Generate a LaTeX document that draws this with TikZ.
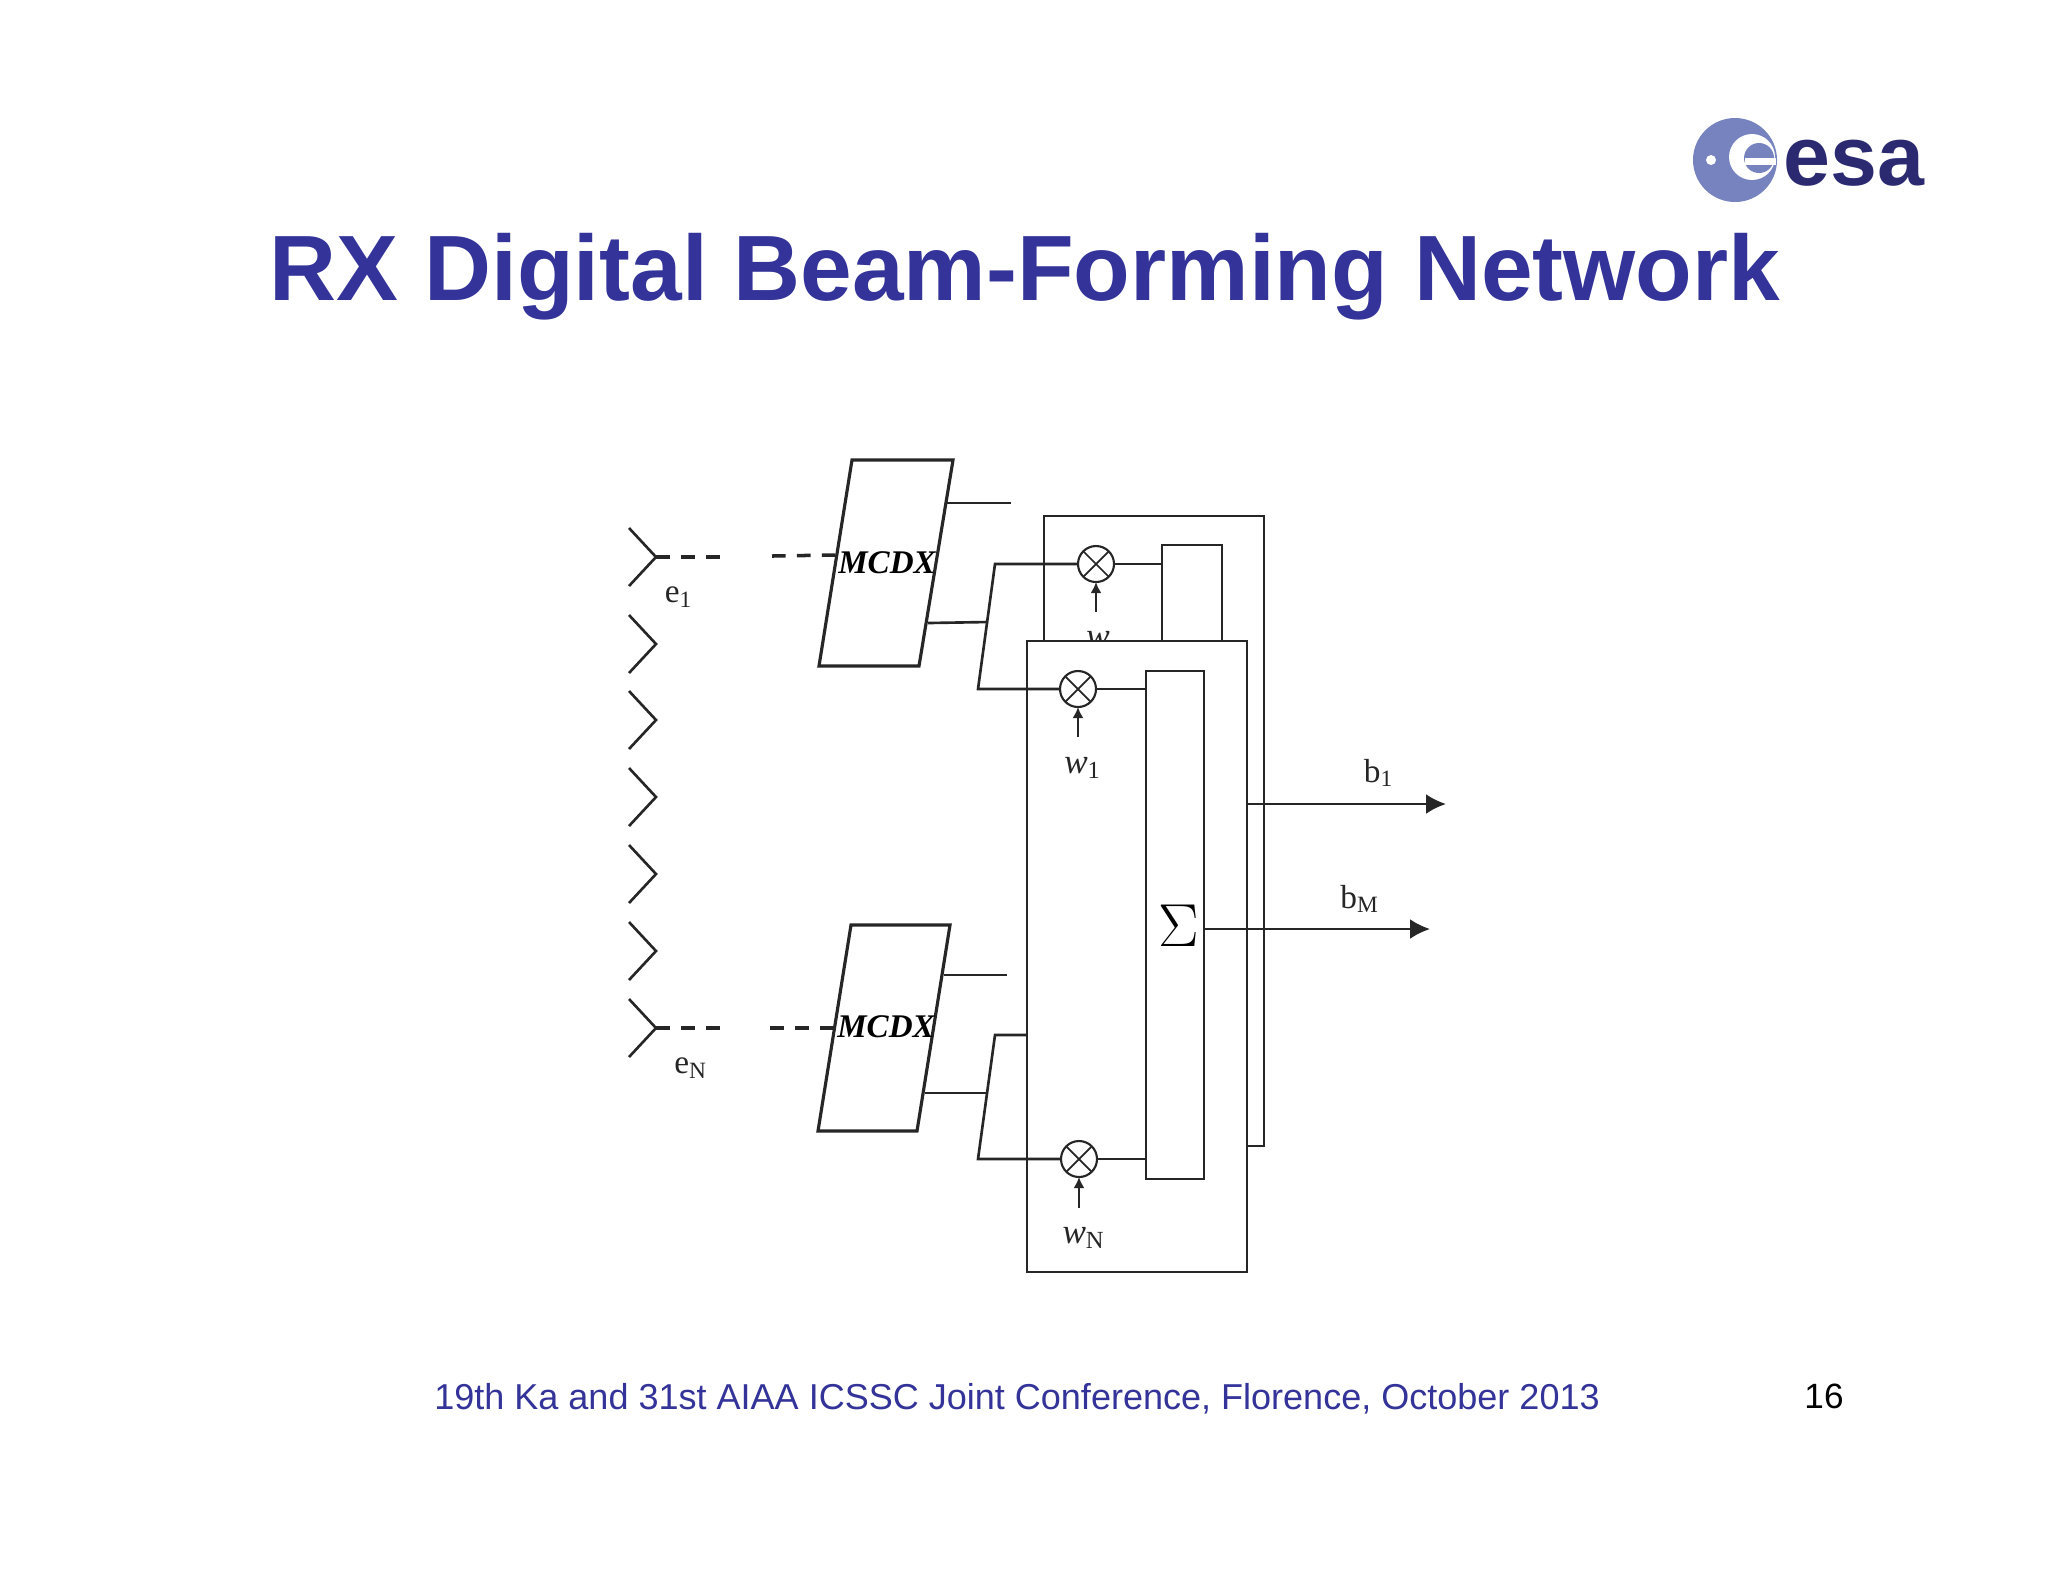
\documentclass[tikz,border=0pt]{standalone}
\usepackage{fontspec}
\setmainfont{Liberation Sans}
\newfontfamily\labelfont{Liberation Serif}
\usetikzlibrary{calc,arrows.meta}

\definecolor{slideblue}{HTML}{333399}
\definecolor{logoblue}{HTML}{7683BE}
\definecolor{logonavy}{HTML}{2B2A70}
\definecolor{wire}{HTML}{262626}

\tikzset{
    wireline/.style={draw=wire, line width=0.75pt},
    feedline/.style={wireline, dash pattern=on 3.9pt off 3.2pt, line width=1pt},
    outarrow/.style={wireline, -{Latex[length=2mm,width=2mm]}},
    weightarrow/.style={wireline, -{Latex[length=1.1mm,width=1.1mm]}},
    mixer/.style={circle, draw=wire, line width=0.6pt, fill=white, minimum size=3.6mm, inner sep=0pt, outer sep=0pt},
    sumbox/.style={rectangle, draw=wire, line width=0.75pt, fill=white, inner sep=0pt, outer sep=0pt},
    sublabel/.style={font=\labelfont\fontsize{9.5}{10}\selectfont, text=wire, inner sep=0pt},
    mcdxlabel/.style={font=\labelfont\itshape\bfseries\fontsize{9.4}{10}\selectfont, text=black, inner sep=0pt},
}

\newcommand{\mixercross}[1]{
    \draw[wire, line width=0.5pt] (#1.north west) -- (#1.south east);
    \draw[wire, line width=0.5pt] (#1.north east) -- (#1.south west);
}

\begin{document}
\begin{tikzpicture}[x=0.1mm, y=-0.1mm]
    \useasboundingbox (0,0) rectangle (2048,1582);

    % Define coordinates
    \coordinate (e1) at (656,557);
    \coordinate (eN) at (656,1028);
    \coordinate (gap1a) at (723,557);
    \coordinate (gap1b) at (772,556);
    \coordinate (gapNa) at (720,1028);
    \coordinate (gapNb) at (770,1028);

    \coordinate (mcdx1a) at (852,460);
    \coordinate (mcdx1b) at (953,460);
    \coordinate (mcdx1c) at (919,666);
    \coordinate (mcdx1d) at (819,666);
    \coordinate (mcdxNa) at (851,925);
    \coordinate (mcdxNb) at (950,925);
    \coordinate (mcdxNc) at (917,1131);
    \coordinate (mcdxNd) at (818,1131);

    % Title and footer
    \node[font=\bfseries\fontsize{26.4}{30}\selectfont, text=slideblue, inner sep=0pt] (title) at (1025,277) {RX Digital Beam-Forming Network};
    \node[font=\fontsize{10.25}{12}\selectfont, text=slideblue, inner sep=0pt] (footer) at (1017,1399) {19th Ka and 31st AIAA ICSSC Joint Conference, Florence, October 2013};
    \node[font=\fontsize{10}{12}\selectfont, text=black, inner sep=0pt] (page) at (1824,1396) {16};

    % Draw logo
    \fill[logoblue] (1735,160) circle (4.2mm);
    \fill[white] (1711,160) circle (0.5mm);
    \fill[white] (1752,157) circle (2.3mm);
    \fill[logoblue] (1759,158) circle (1.5mm);
    \fill[white] (1745,158) rectangle (1776,165);
    \node[font=\bfseries\fontsize{24}{26}\selectfont, text=logonavy, inner sep=0pt] (esa) at (1854,163) {esa};

    % Draw antenna elements
    \foreach \y in {557,644,720,797,874,951,1028} {
        \draw[wireline] (629,\y-29) -- (656,\y) -- (629,\y+29);
    }

    % Draw feed lines
    \draw[feedline] (e1) -- (gap1a);
    \draw[feedline] (gap1b) -- (835,555);
    \draw[feedline] (eN) -- (gapNa);
    \draw[feedline] (gapNb) -- (834,1028);
    \node[sublabel] (e1label) at (679,597) {e\textsubscript{1}};
    \node[sublabel] (eNlabel) at (691,1068) {e\textsubscript{N}};

    % Draw demultiplexers
    \draw[wireline, line width=0.9pt] (mcdx1a) -- (mcdx1b) -- (mcdx1c) -- (mcdx1d) -- cycle;
    \draw[wireline, line width=0.9pt] (mcdxNa) -- (mcdxNb) -- (mcdxNc) -- (mcdxNd) -- cycle;
    \node[mcdxlabel] (mcdx1) at (887,563) {MCDX};
    \node[mcdxlabel] (mcdxN) at (886,1027) {MCDX};

    % Back beam former
    \node[sumbox, minimum width=22mm, minimum height=63mm, anchor=north west] (beamM) at (1044,516) {};
    \node[sumbox, minimum width=6mm, minimum height=12mm, anchor=north west] (sumM) at (1162,545) {};
    \node[mixer] (mixM) at (1096,564) {};
    \mixercross{mixM}
    \coordinate (wM) at (1096,612);
    \draw[weightarrow] (wM) -- (mixM);
    \draw[wireline] (mixM) -- (mixM -| sumM.west);
    \node[sublabel, font=\labelfont\itshape\fontsize{10}{10}\selectfont] (wMlabel) at (1098,640) {w};

    % Front beam former
    \node[sumbox, minimum width=22mm, minimum height=63.1mm, anchor=north west] (beam1) at (1027,641) {};
    \node[sumbox, minimum width=5.8mm, minimum height=50.8mm, anchor=north west] (sum1) at (1146,671) {};
    \node (sigma) at (1179,926) {\fontsize{17}{17}\selectfont$\Sigma$};
    \node[mixer] (mix1) at (1078,689) {};
    \node[mixer] (mixN) at (1079,1159) {};
    \mixercross{mix1}
    \mixercross{mixN}
    \coordinate (w1) at (1078,737);
    \coordinate (wN) at (1079,1208);
    \draw[weightarrow] (w1) -- (mix1);
    \draw[weightarrow] (wN) -- (mixN);
    \draw[wireline] (mix1) -- (mix1 -| sum1.west);
    \draw[wireline] (mixN) -- (mixN -| sum1.west);
    \node[sublabel, font=\labelfont\itshape\fontsize{10}{10}\selectfont] (w1label) at (1083,768) {w\textsubscript{\upshape 1}};
    \node[sublabel, font=\labelfont\itshape\fontsize{10}{10}\selectfont] (wNlabel) at (1084,1238) {w\textsubscript{\upshape N}};

    % Draw stubs and forks
    \coordinate (fork1) at (988,622);
    \coordinate (forkN) at (986,1093);
    \draw[wireline] (947,503) -- (1011,503);
    \draw[wireline] (944,975) -- (1007,975);
    \draw[wireline] (928,623) -- (fork1);
    \draw[wireline] (925,1093) -- (forkN);
    \draw[wireline] (mixM) -- (995,564) -- (978,689) -- (mix1);
    \draw[wireline] (beam1.west |- 0,1035) -- (995,1035) -- (978,1159) -- (mixN);

    % Draw outputs
    \coordinate (b1) at (1446,804);
    \coordinate (bM) at (1430,929);
    \draw[outarrow] (beam1.east |- b1) -- (b1);
    \draw[outarrow] (sum1.east |- bM) -- (bM);
    \node[sublabel] (b1label) at (1379,773) {b\textsubscript{1}};
    \node[sublabel] (bMlabel) at (1360,899) {b\textsubscript{M}};

\end{tikzpicture}
\end{document}
